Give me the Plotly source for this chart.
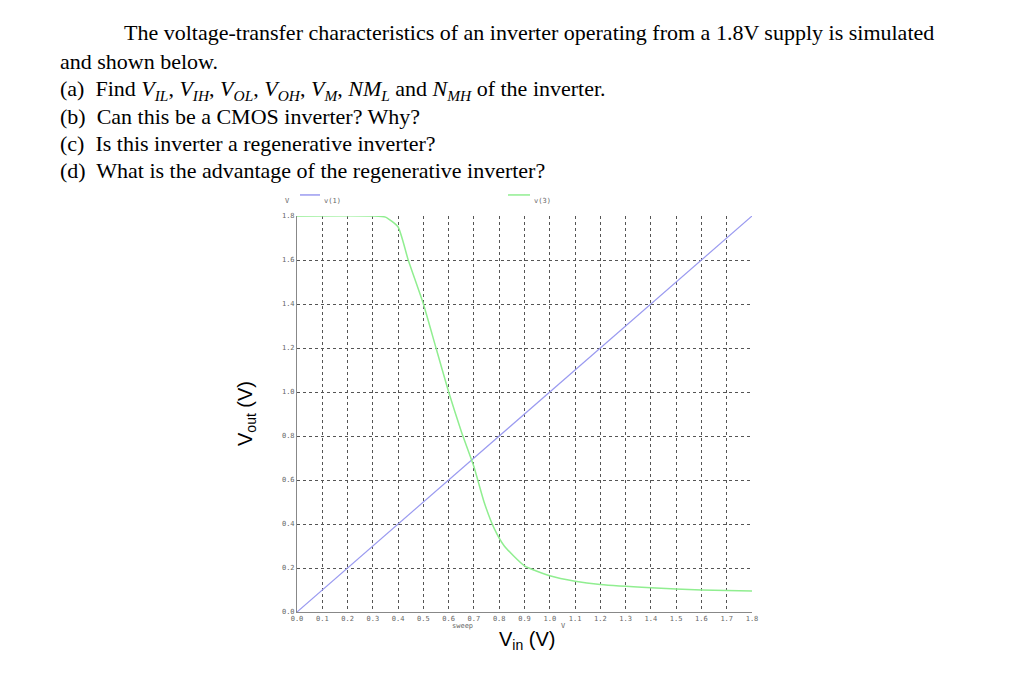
import plotly.graph_objects as go

vin = [0.0, 1.8]
vin_line = [0.0, 1.8]
vout_x = [0.0, 0.30, 0.35, 0.40, 0.44, 0.50, 0.55, 0.60, 0.65, 0.70, 0.74, 0.78, 0.82, 0.90, 1.0, 1.1, 1.2, 1.4, 1.6, 1.8]
vout_y = [1.8, 1.80, 1.795, 1.75, 1.6, 1.4, 1.2, 1.0, 0.82, 0.66, 0.5, 0.38, 0.30, 0.21, 0.165, 0.14, 0.125, 0.11, 0.10, 0.095]
xticks = [round(i*0.1, 1) for i in range(19)]
yticks = [round(i*0.2, 1) for i in range(10)]

fig = go.Figure()
fig.add_trace(go.Scatter(x=vin, y=vin_line, mode="lines", name="v(1)", line=dict(color="#9a9af0", width=1.2), cliponaxis=False))
fig.add_trace(go.Scatter(x=vout_x, y=vout_y, mode="lines", name="v(3)", line=dict(color="#90ee90", width=1.5, shape="spline", smoothing=0.5), cliponaxis=False))

grid = dict(showgrid=True, gridcolor="#555", griddash="dot", gridwidth=1, zeroline=False,
            showline=True, linecolor="#888", mirror=False, ticks="", tickfont=dict(size=7, color="#666", family="DejaVu Sans Mono"))
fig.update_xaxes(range=[0, 1.8], tickvals=xticks, ticktext=[f"{v:.1f}" for v in xticks], **grid)
fig.update_yaxes(range=[0, 1.8], tickvals=yticks, ticktext=[f"{v:.1f}" for v in yticks], **grid)

L, T, R, B = 297, 218, 752, 613
def px(x): return (x - L) / (R - L)
def py(y): return (B - y) / (B - T)

serif = dict(family="Liberation Serif", size=22, color="black")
lines = [
    (122, 35, "The voltage-transfer characteristics of an inverter operating from a 1.8V supply is simulated"),
    (58, 64, "and shown below."),
    (58, 92, "(a)  Find <i>V<sub>IL</sub></i>, <i>V<sub>IH</sub></i>, <i>V<sub>OL</sub></i>, <i>V<sub>OH</sub></i>, <i>V<sub>M</sub></i>, <i>NM<sub>L</sub></i> and <i>N<sub>MH</sub></i> of the inverter."),
    (58, 119, "(b)  Can this be a CMOS inverter? Why?"),
    (58, 146, "(c)  Is this inverter a regenerative inverter?"),
    (58, 173, "(d)  What is the advantage of the regenerative inverter?"),
]
ann = [dict(x=px(x), y=py(y), xref="paper", yref="paper", text=t, showarrow=False,
            xanchor="left", yanchor="middle", font=serif) for x, y, t in lines]
small = dict(family="DejaVu Sans Mono", size=7, color="#666")
ann += [
    dict(x=px(283), y=py(197), xref="paper", yref="paper", text="V", showarrow=False, font=small),
    dict(x=px(322), y=py(197), xref="paper", yref="paper", text="v(1)", showarrow=False, xanchor="left", font=small),
    dict(x=px(532), y=py(197), xref="paper", yref="paper", text="v(3)", showarrow=False, xanchor="left", font=small),
    dict(x=px(462), y=py(633), xref="paper", yref="paper", text="sweep", showarrow=False, font=small),
    dict(x=px(563), y=py(633), xref="paper", yref="paper", text="V", showarrow=False, font=small),
    dict(x=px(527), y=py(656), xref="paper", yref="paper", text="V<sub>in</sub> (V)", showarrow=False, font=dict(family="Liberation Sans", size=20, color="black")),
    dict(x=px(232), y=py(415), xref="paper", yref="paper", text="V<sub>out</sub> (V)", textangle=-90, showarrow=False, font=dict(family="Liberation Sans", size=20, color="black")),
]
shapes = [
    dict(type="line", xref="paper", yref="paper", x0=px(300), x1=px(320), y0=py(197), y1=py(197), line=dict(color="#9a9af0", width=1.5)),
    dict(type="line", xref="paper", yref="paper", x0=px(508), x1=px(530), y0=py(197), y1=py(197), line=dict(color="#90ee90", width=1.5)),
]
fig.update_layout(
    width=1024, height=689, paper_bgcolor="white", plot_bgcolor="white",
    margin=dict(l=289, r=280, t=208, b=85),
    annotations=ann, shapes=shapes, showlegend=False,
)
fig.write_html("out.html")
